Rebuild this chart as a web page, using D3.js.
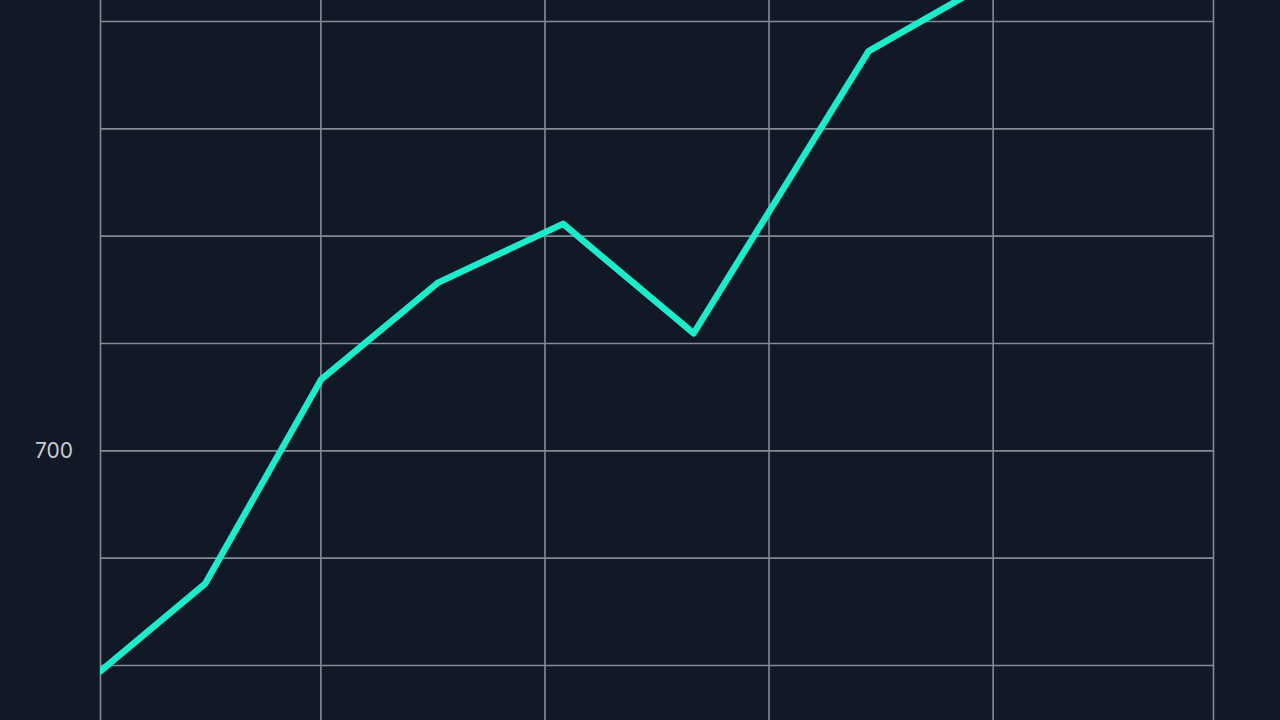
<!DOCTYPE html>
<html>
<head>
<meta charset="utf-8">
<script src="https://cdn.jsdelivr.net/npm/d3@7"></script>
<style>
  html, body { margin: 0; padding: 0; background: #111927; overflow: hidden; }
  svg { display: block; }
</style>
</head>
<body>
<svg id="chart" width="1280" height="720"></svg>
<script>
// ---- data ----
const days   = [0, 14.2, 29.8, 45.5, 62.4, 80, 103.6, 128];
const values = [597, 638, 733, 778, 805.5, 754.5, 886, 934];
const xGridValues = [0, 29.7, 59.9, 90.1, 120.3, 150];
const yGridValues = [600, 650, 700, 750, 800, 850, 900];
const yLabelValues = [700];

const W = 1280, H = 720;
const svg = d3.select("#chart");

const x = d3.scaleLinear().domain([0, 150]).range([100, 1213]);
const y = d3.scaleLinear().domain([600, 900]).range([665, 21]);

svg.append("rect").attr("width", W).attr("height", H).attr("fill", "#111927");

svg.append("defs").append("clipPath").attr("id", "plot")
  .append("rect").attr("x", 100).attr("y", -200).attr("width", 1113).attr("height", 1200);

// horizontal grid
svg.append("g")
  .attr("transform", "translate(100,0)")
  .call(d3.axisLeft(y).tickValues(yGridValues).tickSize(-1113).tickFormat(""))
  .call(g => g.select(".domain").remove())
  .call(g => g.selectAll("line").attr("stroke", "#838b97").attr("stroke-width", 1.6));

// vertical grid
svg.append("g")
  .attr("transform", `translate(0,${H + 100})`)
  .call(d3.axisBottom(x).tickValues(xGridValues).tickSize(H + 200).tickFormat(""))
  .call(g => g.select(".domain").remove())
  .call(g => g.selectAll("line").attr("stroke", "#838b97").attr("stroke-width", 1.6)
                 .attr("y2", -(H + 200)));

// y labels
svg.append("g")
  .attr("transform", "translate(100,0)")
  .call(d3.axisLeft(y).tickValues(yLabelValues).tickSize(0).tickPadding(27).tickFormat(d3.format("d")))
  .call(g => g.select(".domain").remove())
  .call(g => g.selectAll("text")
    .attr("fill", "#c9cdd4")
    .attr("font-family", "Inter, 'Noto Sans', sans-serif")
    .attr("font-size", 21));

// line
const line = d3.line().x((d, i) => x(days[i])).y(d => y(d));
svg.append("path")
  .datum(values)
  .attr("clip-path", "url(#plot)")
  .attr("fill", "none")
  .attr("stroke", "#1cecc9")
  .attr("stroke-width", 6.5)
  .attr("stroke-linejoin", "round")
  .attr("stroke-linecap", "round")
  .attr("d", line);
</script>
</body>
</html>
